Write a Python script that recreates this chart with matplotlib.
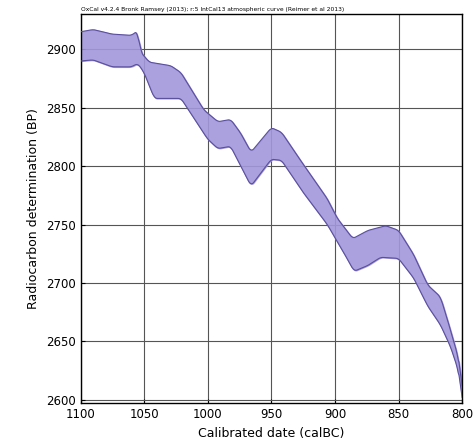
import numpy as np
import matplotlib.pyplot as plt

# Calibration curve band (IntCal13)
year_up = [1100, 1090, 1075, 1060, 1055, 1053, 1046, 1029, 1021, 1003, 992, 982, 974, 966,
           950, 942, 924, 906, 898, 886, 874, 860, 850, 838, 827, 817, 809, 803, 800]
bp_up = [2915, 2917, 2913, 2912, 2916, 2898, 2889, 2886, 2880, 2848, 2838, 2840, 2828, 2812,
         2833, 2829, 2800, 2772, 2755, 2738, 2745, 2749, 2745, 2724, 2698, 2688, 2659, 2636, 2612]
year_lo = [1100, 1090, 1075, 1060, 1055, 1050, 1042, 1021, 1000, 992, 982, 966,
           950, 942, 924, 906, 890, 885, 874, 864, 850, 838, 827, 817, 809, 803, 800]
bp_lo = [2890, 2891, 2885, 2885, 2888, 2880, 2858, 2858, 2823, 2815, 2817, 2783,
         2806, 2805, 2776, 2750, 2720, 2710, 2715, 2722, 2721, 2704, 2680, 2664, 2645, 2625, 2602]

fig, ax = plt.subplots(figsize=(4.74, 4.48), dpi=100)
fig.subplots_adjust(left=0.17, right=0.975, top=0.968, bottom=0.1)

# light smoothing of the traced outline
grid_x = np.linspace(800, 1100, 601)
def smooth(xs, ys):
    y = np.interp(grid_x, xs[::-1], ys[::-1])
    k = 9
    pad = np.pad(y, k // 2, mode='edge')
    out = np.convolve(pad, np.ones(k) / k, mode='valid')
    out[:6] = y[:6]
    return out

up = smooth(year_up, bp_up)
lo = smooth(year_lo, bp_lo)
ax.fill_between(grid_x, lo, up, color='#a397dc', alpha=0.9, zorder=2)
ax.plot(grid_x, up, color='#5a4f9c', lw=0.8, zorder=3)
ax.plot(grid_x, lo, color='#5a4f9c', lw=0.8, zorder=3)

ax.set_xlim(1100, 800)
ax.set_ylim(2597, 2930)
ax.set_xticks([1100, 1050, 1000, 950, 900, 850, 800])
ax.set_yticks([2600, 2650, 2700, 2750, 2800, 2850, 2900])
ax.grid(color='#555555', lw=0.8, zorder=1)
ax.tick_params(labelsize=8.5, length=3, direction='in')
for s in ax.spines.values():
    s.set_linewidth(1.0)

ax.set_xlabel('Calibrated date (calBC)', fontsize=9)
ax.set_ylabel('Radiocarbon determination (BP)', fontsize=9)
ax.text(0.0, 1.005, 'OxCal v4.2.4 Bronk Ramsey (2013); r:5 IntCal13 atmospheric curve (Reimer et al 2013)',
        transform=ax.transAxes, fontsize=4.3, va='bottom', ha='left')

fig.savefig('out.png', dpi=100)
